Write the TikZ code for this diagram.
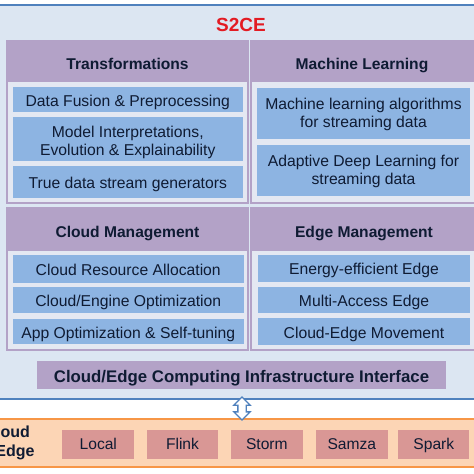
\documentclass[tikz,border=0pt]{standalone}
\usepackage{fontspec}
\setmainfont{Liberation Sans}
\usetikzlibrary{shapes.arrows}
\definecolor{panelbg}{HTML}{DCE6F2}
\definecolor{panelborder}{HTML}{4F81BD}
\definecolor{purp}{HTML}{B3A2C7}
\definecolor{innerbg}{HTML}{E4E8F2}
\definecolor{bluebox}{HTML}{8DB4E2}
\definecolor{txt}{HTML}{0F1B33}
\definecolor{titlered}{HTML}{E31B23}
\definecolor{orangefill}{HTML}{FCD5B5}
\definecolor{orangeline}{HTML}{F79646}
\definecolor{pinkbox}{HTML}{D99795}
\newcommand\rectnode[7]{%
  \node[#2, minimum width={(#5-#3)*1pt}, minimum height={(#6-#4)*1pt}]
    (#1) at ({(#3+#5)/2},{(#4+#6)/2}) {#7};}
\begin{document}
\begin{tikzpicture}[x=1pt,y=-1pt,
  every node/.style={inner sep=0pt, outer sep=0pt, text=txt},
  outerpanel/.style={draw=panelborder, line width=1.3pt, fill=panelbg},
  panel/.style={draw=purp, line width=2pt, fill=innerbg},
  header/.style={fill=purp, font=\fontsize{15.6}{18}\selectfont\bfseries,
    text height=17.5pt, text depth=3.3pt},
  bluebx/.style={fill=bluebox, align=center, font=\fontsize{15.7}{18}\selectfont,
    text height=16.5pt, text depth=3.3pt},
  bluebxtwo/.style={bluebx, text height=#1, text depth=3.3pt},
  iface/.style={fill=purp, font=\fontsize{16.8}{19}\selectfont\bfseries,
    text height=17.5pt, text depth=3.5pt},
  orangebar/.style={draw=orangeline, line width=2pt, fill=orangefill},
  pinkbx/.style={fill=pinkbox, font=\fontsize{15.6}{18}\selectfont,
    text height=14pt, text depth=3.6pt},
  sidelabel/.style={font=\fontsize{16}{18}\selectfont\bfseries, anchor=east},
  dblarrow/.style={double arrow, shape border rotate=90, draw=panelborder, line width=1.3pt,
    fill=white, minimum height=23pt, inner sep=3.5pt, double arrow head extend=4pt}
]
\useasboundingbox (0,0) rectangle (474,474);
\fill[white] (0,0) rectangle (474,474);

% outer S2CE panel
\rectnode{outer}{outerpanel}{-3}{5}{490}{399}{}
\node[font=\fontsize{19}{22}\selectfont\bfseries, text=titlered] (title) at (241,25) {S2CE};

% Transformations
\rectnode{tp}{panel}{7}{41}{248}{203}{}
\rectnode{th}{header}{8}{42}{247}{82}{Transformations}
\rectnode{t1}{bluebx}{13}{86.7}{242.5}{112.3}{Data Fusion \& Preprocessing}
\rectnode{t2}{bluebxtwo=36.5pt}{13}{117.3}{242.5}{160.7}{Model Interpretations,\\Evolution \& Explainability}
\rectnode{t3}{bluebx}{13}{165.7}{242.5}{197.7}{True data stream generators}

% Machine Learning
\rectnode{mp}{panel}{251}{41}{490}{203}{}
\rectnode{mh}{header}{252}{42}{489}{82}{}
\node[header, fill=none] (mht) at (362,62) {Machine Learning};
\rectnode{m1}{bluebxtwo=30.5pt}{257}{88.3}{470}{139}{Machine learning algorithms\\for streaming data}
\rectnode{m2}{bluebxtwo=30.5pt}{257}{145}{470}{196}{Adaptive Deep Learning for\\streaming data}

% Cloud Management
\rectnode{cp}{panel}{7}{208}{248}{350}{}
\rectnode{ch}{header}{8}{209}{247}{251}{Cloud Management}
\rectnode{c1}{bluebx}{13}{255}{243.5}{282.7}{Cloud Resource Allocation}
\rectnode{c2}{bluebx}{13}{287.3}{243.5}{313.3}{Cloud/Engine Optimization}
\rectnode{c3}{bluebx}{13}{319.3}{243.5}{344}{App Optimization \& Self-tuning}

% Edge Management
\rectnode{ep}{panel}{251}{208}{490}{350}{}
\rectnode{eh}{header}{252}{209}{489}{251}{}
\node[header, fill=none] (eht) at (364,230) {Edge Management};
\rectnode{e1}{bluebx}{258}{255}{470}{281.7}{Energy-efficient Edge}
\rectnode{e2}{bluebx}{258}{287.3}{470}{313.3}{Multi-Access Edge}
\rectnode{e3}{bluebx}{258}{318.3}{470}{345}{Cloud-Edge Movement}

% Interface
\rectnode{ifc}{iface}{37}{361}{446}{389.3}{Cloud/Edge Computing Infrastructure Interface}

% Cloud / Edge bar
\rectnode{ob}{orangebar}{-10}{419.3}{490}{467.3}{}
\node[sidelabel] (lcloud) at (30,432) {Cloud};
\node[sidelabel] (ledge) at (34.5,452) {Edge};
\rectnode{local}{pinkbx}{62.3}{430}{134.3}{459.3}{Local}
\rectnode{flink}{pinkbx}{146.7}{430}{218.3}{459.3}{Flink}
\rectnode{storm}{pinkbx}{231}{430}{302.7}{459.3}{Storm}
\rectnode{samza}{pinkbx}{316}{430}{387.7}{459.3}{Samza}
\rectnode{spark}{pinkbx}{398.3}{430}{469.3}{459.3}{Spark}

% double arrow between panel and bar
\node[dblarrow] (arr) at (242,408.5) {};
\end{tikzpicture}
\end{document}
